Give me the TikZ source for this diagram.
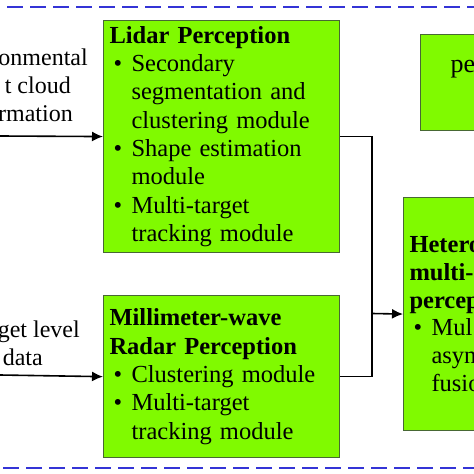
\documentclass[tikz,border=0pt]{standalone}
\usepackage{fontspec}
\setmainfont{Liberation Serif}
\usepackage{xcolor}
\usepackage{tikz}
\usetikzlibrary{arrows.meta,positioning}
\definecolor{boxgreen}{RGB}{128,250,0}
\definecolor{boxline}{RGB}{72,104,52}
\definecolor{dashblue}{RGB}{52,52,214}
\setlength{\parindent}{0pt}
\newcommand{\nl}{\hfil\break}
\newcommand{\bitem}[1]{\par\hangindent=22pt\hangafter=1\noindent\makebox[22pt][l]{\hspace{4pt}\textbullet}#1\par}
\tikzset{
	basic/.style = {draw=boxline, fill=boxgreen, line width=1.1pt, rectangle, anchor=north west, inner ysep=0pt},
	module/.style = {basic, align=left, text width=224pt, minimum width=236pt, inner xsep=6pt, font=\fontsize{24.5}{28.3}\selectfont},
	fusion/.style = {basic, align=left, text width=150pt, minimum width=162pt, inner xsep=6pt, font=\fontsize{24.5}{27.8}\selectfont},
	source/.style = {anchor=base east, inner sep=0pt, font=\fontsize{24}{28.3}\selectfont},
	bus/.style = {line width=1.6pt},
	dashline/.style = {draw=dashblue, line width=1.8pt, dash pattern=on 16pt off 7pt}
}
\begin{document}
\begin{tikzpicture}[x=1pt, y=-1pt, >={Latex[length=11pt,width=10pt]}]
	\useasboundingbox (0,0) rectangle (474,474);
	\clip (0,0) rectangle (474,474);
	
	% dashed frame lines
	\draw[dashline, dash phase=16pt] (0,7) -- (474,7);
	\draw[dashline, dash phase=20pt] (0,468) -- (474,468);
	
	% perception modules
	\node[module, minimum height=232pt] (lidar) at (103,20) {{\bfseries Lidar Perception}
		\bitem{Secondary\nl segmentation and\nl clustering module}
		\bitem{Shape estimation\nl module}
		\bitem{Multi-target\nl tracking module}};
	\node[module, minimum height=162pt, below=42pt of lidar.south west, anchor=north west] (radar) {{\bfseries Millimeter-wave\nl Radar Perception}
		\bitem{Clustering module}
		\bitem{Multi-target\nl tracking module}};
	
	% right column
	\node[basic, minimum width=120pt, minimum height=96pt, align=left, text width=60pt, inner xsep=30pt,
		text height=12pt, text depth=32pt, font=\fontsize{26}{30}\selectfont] (perc) at (420,34) {pe};
	\node[fusion, minimum height=233pt] (hetero) at (403,197) {{\bfseries Hetero\nl multi-\nl percep}
		\bitem{Mul\nl asyn\nl fusio}};
	
	% input texts
	\node[source] (env1) at (88,65) {onmental};
	\node[source] (env2) at (71,93) {t cloud};
	\node[source] (env3) at (73,121) {rmation};
	\node[source] (tgt1) at (80,337) {get level};
	\node[source] (tgt2) at (43,365) {data};
	
	% connectors
	\coordinate (lin) at (0,136);
	\coordinate (rin) at (0,375);
	\coordinate (join) at (372,313.5);
	\draw[bus,->] (lin) -- (lidar.west);
	\draw[bus,->] (rin) -- (radar.west);
	\draw[bus] (lidar.east) -| (join);
	\draw[bus] (radar.east) -| (join);
	\draw[bus,->] (join) -- (hetero.west);
\end{tikzpicture}
\end{document}
